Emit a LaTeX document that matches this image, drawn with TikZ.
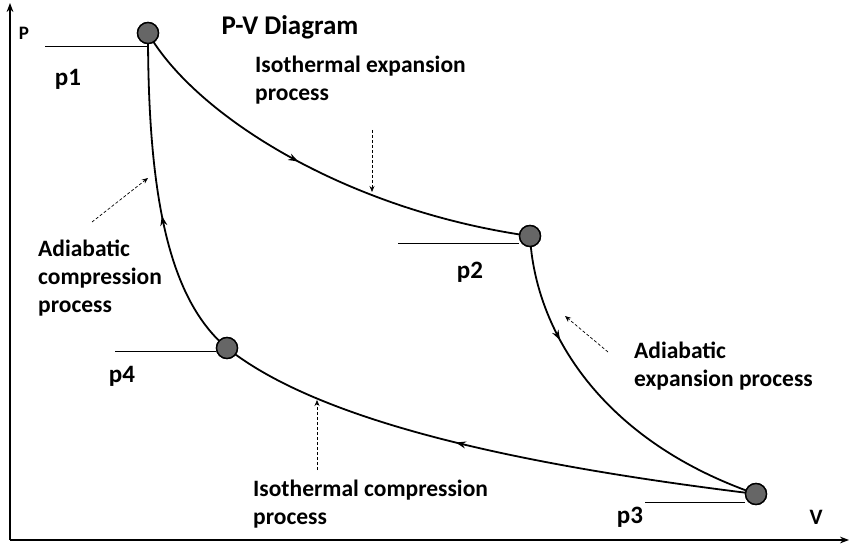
\documentclass[tikz,border=0pt]{standalone}
\usepackage{fontspec}
\setmainfont{Carlito}
\usetikzlibrary{arrows.meta,decorations.markings}
\begin{document}
\begin{tikzpicture}[x=1pt,y=-1pt,
  lbl/.style={font=\bfseries\fontsize{23.5}{28}\selectfont,align=left,inner sep=0pt},
  plbl/.style={font=\bfseries\fontsize{25}{28}\selectfont,inner sep=0pt},
  pt/.style={circle,draw=black,fill=gray!80!black,line width=1.4pt,minimum size=21pt,inner sep=0pt},
  proc/.style={line width=1.8pt,postaction={decorate},decoration={markings,mark=at position #1 with {\arrow{Stealth[length=10pt,width=7pt]}}}},
  dsh/.style={densely dashed,-{Stealth[length=6pt,width=5pt]},line width=0.7pt},
  tick/.style={line width=0.7pt}]
\useasboundingbox (0,0) rectangle (850,545);
\coordinate (O) at (10,540);
\coordinate (Ytop) at (10,3);
\coordinate (Xend) at (849,540);
\draw[line width=1.8pt,-{Stealth[length=9pt]}] (O) -- (Ytop);
\draw[line width=1.8pt,-{Stealth[length=9pt]}] (O) -- (Xend);
\node[pt] (p1) at (148,33) {};
\node[pt] (p2) at (530,236) {};
\node[pt] (p3) at (756,494) {};
\node[pt] (p4) at (227,348) {};
\draw[proc=0.45] (p1.center) .. controls (195,115) and (345,210) .. (p2.center);
\draw[proc=0.3] (p2.center) .. controls (535,330) and (600,440) .. (p3.center);
\draw[proc=0.55] (p3.center) .. controls (560,470) and (330,430) .. (p4.center);
\draw[proc=0.45] (p4.center) .. controls (170,300) and (148,200) .. (p1.center);
\foreach \n in {p1,p2,p3,p4} \node[pt] at (\n) {};
\coordinate (h1) at (45,46); \draw[tick] (h1) -- (h1 -| p1.center);
\coordinate (h2) at (398,243); \draw[tick] (h2) -- (h2 -| p2.west);
\coordinate (h4) at (115,351); \draw[tick] (h4) -- (h4 -| p4.west);
\coordinate (h3) at (645,502); \draw[tick] (h3) -- (h3 -| p3.west);
\coordinate (d1a) at (372,130); \coordinate (d1b) at (372,192); \draw[dsh] (d1a) -- (d1b);
\coordinate (d2a) at (92,222); \coordinate (d2b) at (148,178); \draw[dsh] (d2a) -- (d2b);
\coordinate (d3a) at (608,352); \coordinate (d3b) at (565,316); \draw[dsh] (d3a) -- (d3b);
\coordinate (d4a) at (317,470); \coordinate (d4b) at (317,400); \draw[dsh] (d4a) -- (d4b);
\node[plbl,font=\bfseries\fontsize{19}{21}\selectfont] (P) at (24,33) {P};
\node[plbl] (l1) at (68,79) {p1};
\node[plbl] (l2) at (470,272) {p2};
\node[plbl] (l4) at (122,376) {p4};
\node[plbl] (l3) at (630,517) {p3};
\node[plbl,font=\bfseries\fontsize{22}{24}\selectfont] (V) at (816,517) {V};
\node[plbl,font=\bfseries\fontsize{27}{30}\selectfont] (title) at (290,27) {P-V Diagram};
\node[lbl,anchor=north west] (t1) at (255,56) {Isothermal expansion\\process};
\node[lbl,anchor=north west] (t2) at (38,240) {Adiabatic\\compression\\process};
\node[lbl,anchor=north west] (t3) at (634,342) {Adiabatic\\expansion process};
\node[lbl,anchor=north west] (t4) at (253,480) {Isothermal compression\\process};
\end{tikzpicture}
\end{document}
